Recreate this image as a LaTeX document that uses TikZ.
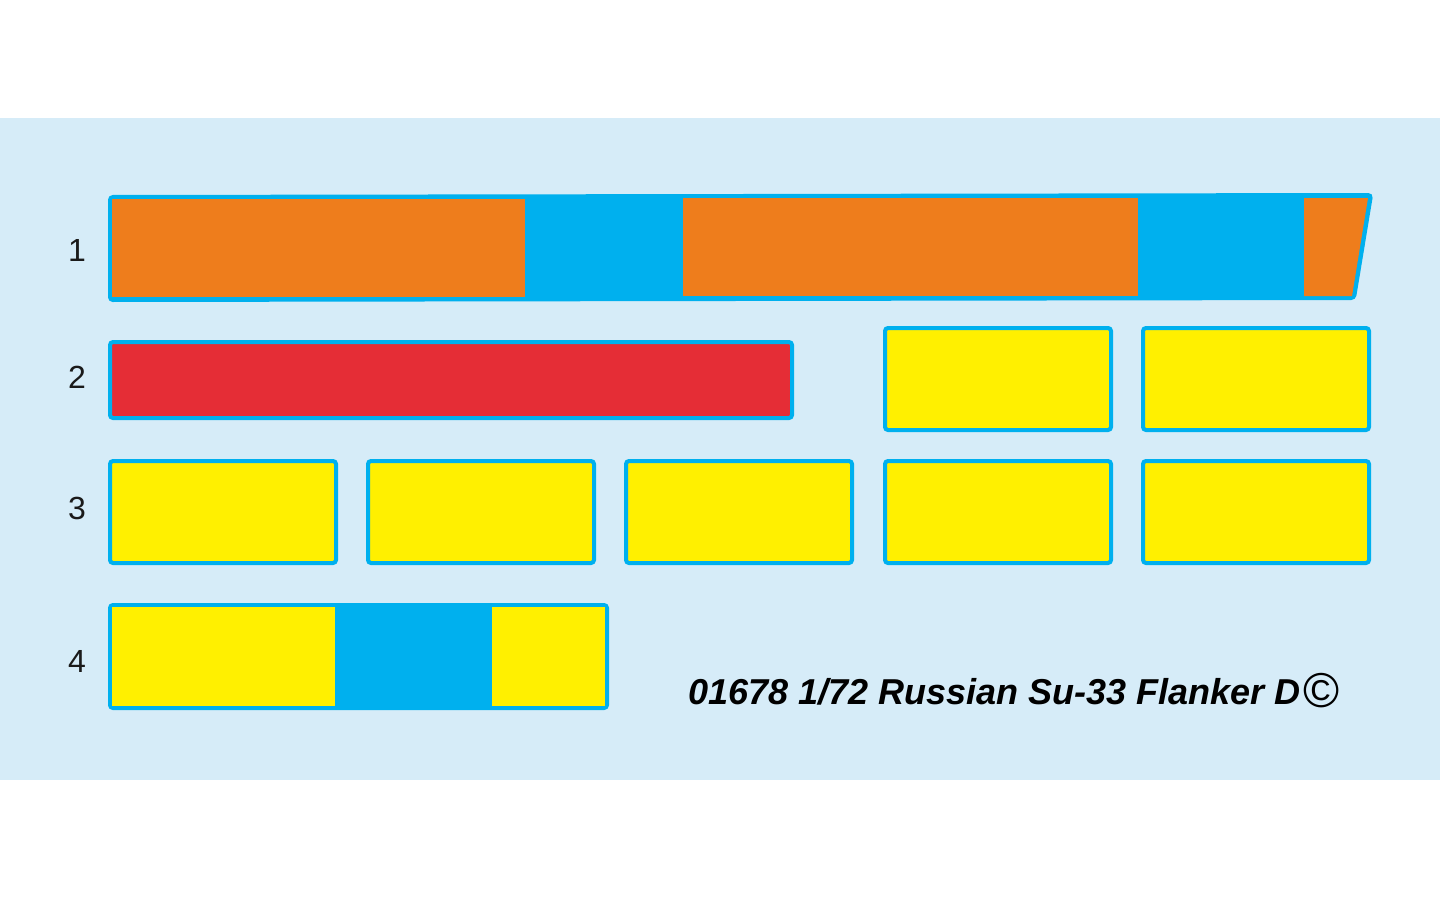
\documentclass[tikz,border=0pt]{standalone}
\usepackage{fontspec}
\setmainfont{Liberation Sans}
\definecolor{panel}{HTML}{D6ECF8}
\definecolor{cyanb}{HTML}{00B0EE}
\definecolor{orng}{HTML}{EE7D1C}
\definecolor{redf}{HTML}{E52D36}
\definecolor{yell}{HTML}{FFF000}
\definecolor{txt}{HTML}{1A1A1A}
\tikzset{
  decal/.style={draw=cyanb, line width=4pt, rounded corners=3pt},
  ybox/.style={decal, fill=yell},
  lbl/.style={font=\fontsize{32}{36}\selectfont, text=txt, inner sep=0pt}
}
\begin{document}
\begin{tikzpicture}[x=1pt,y=-1pt]
\useasboundingbox (0,0) rectangle (1440,900);
\fill[white] (0,0) rectangle (1440,900);
\fill[panel] (0,118) rectangle (1440,780);
% strip 1
\filldraw[decal, fill=cyanb] (110,197) -- (1371,195) -- (1354,298) -- (110,300) -- cycle;
\fill[orng] (112,199) rectangle (525,297);
\fill[orng] (683,198) rectangle (1138,296);
\fill[orng] (1304,198) -- (1368,198) -- (1352,296) -- (1304,296) -- cycle;
% strip 2
\filldraw[decal, fill=redf] (110,342) rectangle (792,418);
\filldraw[ybox] (885,328) rectangle (1111,430);
\filldraw[ybox] (1143,328) rectangle (1369,430);
% row 3
\foreach \x in {110,368,626,885,1143}{
  \filldraw[ybox] (\x,461) rectangle ({\x+226},563);
}
% row 4
\filldraw[decal, fill=cyanb] (110,605) rectangle (607,708);
\fill[yell] (112,607) rectangle (335,706);
\fill[yell] (492,607) rectangle (605,706);
% labels
\node[lbl] (l1) at (77,250) {1};
\node[lbl] (l2) at (77,377) {2};
\node[lbl] (l3) at (77,508) {3};
\node[lbl] (l4) at (77,661) {4};
\node[anchor=base west, inner sep=0pt, text=black, font=\fontsize{36}{40}\selectfont\bfseries\itshape] (title) at (688,704) {01678 1/72 Russian Su-33 Flanker D};
\node[anchor=base west, inner sep=0pt, text=black, font=\fontsize{49}{54}\selectfont] (copy) at (1303,707) {©};
\end{tikzpicture}
\end{document}
